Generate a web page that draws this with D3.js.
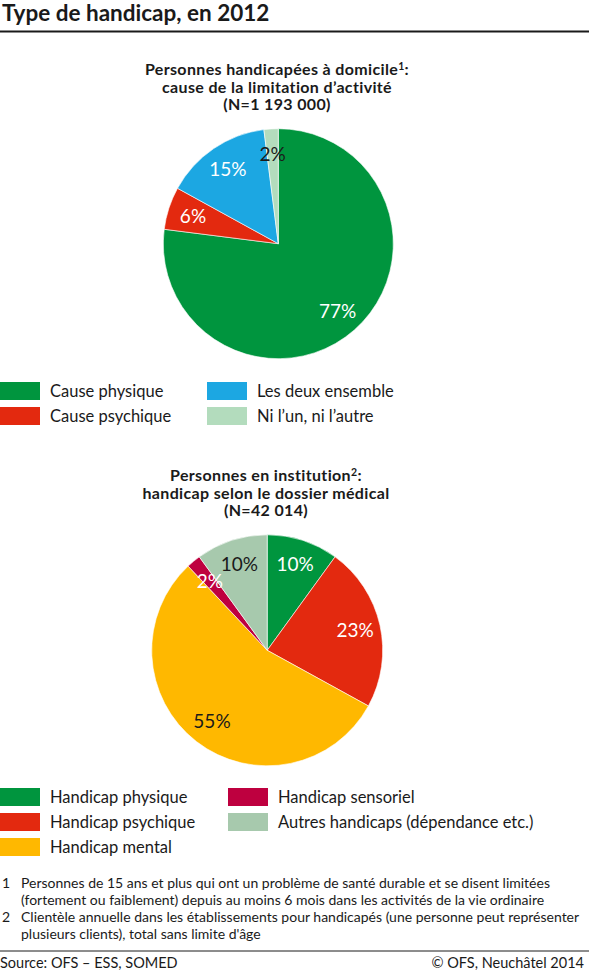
<!DOCTYPE html>
<html>
<head>
<meta charset="utf-8">
<script src="https://cdn.jsdelivr.net/npm/d3@7"></script>
<style>
  body { margin:0; background:#fff; }
  svg text { font-family: Lato, "Open Sans", sans-serif; fill:#1a1a1a; }
</style>
</head>
<body>
<svg id="chart" width="589" height="975"></svg>
<script>
// donnees
var domicileCategories = ["Cause physique","Cause psychique","Les deux ensemble","Ni l’un, ni l’autre"];
var domicileValues = [77, 6, 15, 2];
var domicileColors = ["#00953e","#e3290f","#1ca7e2","#b3dcbd"];
var domicileLabelColors = ["#fff","#fff","#fff","#1a1a1a"];

var institutionCategories = ["Handicap physique","Handicap psychique","Handicap mental","Handicap sensoriel","Autres handicaps (dépendance etc.)"];
var institutionValues = [10, 23, 55, 2, 10];
var institutionColors = ["#00953e","#e3290f","#ffb800","#be003f","#a7c9ad"];
var institutionLabelColors = ["#fff","#fff","#1a1a1a","#fff","#1a1a1a"];

var notes = [
  ["1","Personnes de 15 ans et plus qui ont un problème de santé durable et se disent limitées"],
  ["","(fortement ou faiblement) depuis au moins 6 mois dans les activités de la vie ordinaire"],
  ["2","Clientèle annuelle dans les établissements pour handicapés (une personne peut représenter"],
  ["","plusieurs clients), total sans limite d'âge"]
];

var svg = d3.select("#chart");

svg.append("text")
    .attr("x",2).attr("y",21)
    .style("font-size","22.5px").style("font-weight","bold")
    .text("Type de handicap, en 2012");

svg.append("line")
    .attr("x1",0).attr("x2",589).attr("y1",31.5).attr("y2",31.5)
    .attr("stroke","#1a1a1a").attr("stroke-width",2);

// titres des camemberts, 3 lignes
function subtitle(cx, y, lines, sup){
    lines.forEach(function(l, i){
        var t = svg.append("text")
            .attr("x",cx).attr("y",y+i*17.5)
            .style("font-size","16px").style("font-weight","bold")
            .style("letter-spacing","0.35px")
            .style("text-anchor","middle");
        if(i==0){
            t.append("tspan").text(l);
            t.append("tspan").attr("dy",-5).style("font-size","10.5px").text(sup);
            t.append("tspan").attr("dy",5).text(":");
        } else t.text(l);
    });
}

function drawPie(cx, cy, r, values, colors, labelColors){
    var pie = d3.pie().sort(null).value(function(d){ return d; });
    var arc = d3.arc().innerRadius(0).outerRadius(r);
    var lab = d3.arc().innerRadius(r*0.78).outerRadius(r*0.78);
    var g = svg.append("g").attr("transform","translate("+cx+","+cy+")");
    var arcs = pie(values);
    g.selectAll("path").data(arcs).enter().append("path")
        .attr("d",arc)
        .attr("fill",function(d,i){ return colors[i]; })
        .attr("stroke","#fff").attr("stroke-width",0.6);
    g.selectAll("text").data(arcs).enter().append("text")
        .attr("transform",function(d){ return "translate("+lab.centroid(d)+")"; })
        .attr("dy","0.36em")
        .style("text-anchor","middle")
        .style("font-size","19px").style("font-weight","normal")
        .style("fill",function(d,i){ return labelColors[i]; })
        .text(function(d){ return d.data+"%"; });
}

function legend(y0, cats, colors, perCol, col2x){
    cats.forEach(function(c, i){
        var col = Math.floor(i/perCol), row = i%perCol;
        var x = col==0 ? 0 : col2x;
        var y = y0 + row*25;
        svg.append("rect").attr("x",x).attr("y",y).attr("width",40).attr("height",18)
            .attr("fill",colors[i]);
        svg.append("text").attr("x",x+50).attr("y",y+15)
            .style("font-size","16.5px").text(c);
    });
}

subtitle(277, 75, ["Personnes handicapées à domicile","cause de la limitation d’activité","(N=1 193 000)"], "1");
drawPie(278.3, 243.7, 115, domicileValues, domicileColors, domicileLabelColors);
legend(382, domicileCategories, domicileColors, 2, 207);

subtitle(266, 481, ["Personnes en institution","handicap selon le dossier médical","(N=42 014)"], "2");
drawPie(267.2, 650.3, 115.5, institutionValues, institutionColors, institutionLabelColors);
legend(788, institutionCategories, institutionColors, 3, 228);

notes.forEach(function(n, i){
    var y = 888 + i*17;
    svg.append("text").attr("x",2).attr("y",y).style("font-size","14px").text(n[0]);
    svg.append("text").attr("x",21).attr("y",y).style("font-size","14px").text(n[1]);
});

svg.append("line")
    .attr("x1",0).attr("x2",589).attr("y1",951).attr("y2",951)
    .attr("stroke","#1a1a1a").attr("stroke-width",1);

svg.append("text").attr("x",0).attr("y",968).style("font-size","14.5px")
    .text("Source: OFS – ESS, SOMED");
svg.append("text").attr("x",584).attr("y",968).style("font-size","14.5px")
    .style("text-anchor","end").text("© OFS, Neuchâtel 2014");
</script>
</body>
</html>
